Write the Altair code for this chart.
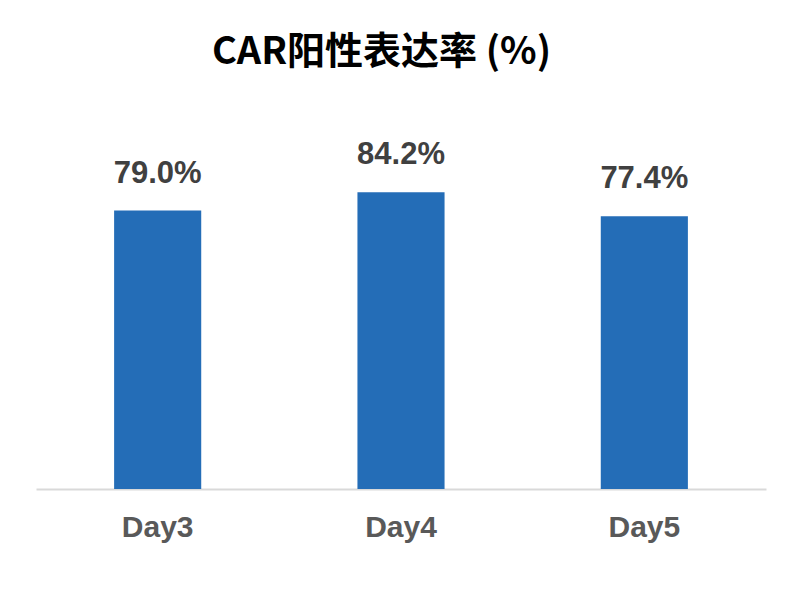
import altair as alt
import pandas as pd

days = ["Day3", "Day4", "Day5"]
rates = [79.0, 84.2, 77.4]
labels = ["79.0%", "84.2%", "77.4%"]

df = pd.DataFrame({"day": days, "rate": rates, "label": labels})

x = alt.X("day:N", sort=days, title=None,
          scale=alt.Scale(paddingInner=0.642, paddingOuter=0.321),
          axis=alt.Axis(labelAngle=0, labelFont="Liberation Sans", labelFontWeight="bold",
                        labelFontSize=30, labelColor="#595959", ticks=False, tickSize=0,
                        labelPadding=47, labelBaseline="alphabetic",
                        domainColor="#D9D9D9", domainWidth=2))
y = alt.Y("rate:Q", title=None, scale=alt.Scale(domain=[0, 100], nice=False),
          axis=None)

bars = alt.Chart(df).mark_bar(color="#246DB7").encode(x=x, y=y)
text = alt.Chart(df).mark_text(font="Liberation Sans", fontWeight="bold", fontSize=31,
                               color="#404040", baseline="alphabetic", dy=-28).encode(
    x=x, y=y, text="label:N")

chart = (bars + text).properties(
    width=730, height=352.5,
    background="white",
    title=alt.TitleParams("CAR阳性表达率 (%)", font="Noto Sans CJK SC", fontWeight="bold",
                          fontSize=38, color="#000000", anchor="middle", dx=-19.5,
                          baseline="alphabetic", offset=35),
    autosize=alt.AutoSizeParams(type="none"),
    padding={"left": 28, "top": 128.5, "right": 27, "bottom": 90},
).configure_view(strokeWidth=0)

chart.save("out.html", embed_options={"renderer": "svg", "actions": False})
